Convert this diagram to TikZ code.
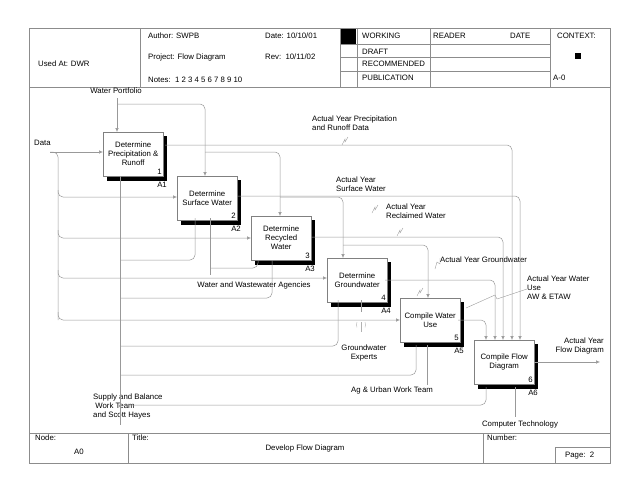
\documentclass[tikz,border=0pt]{standalone}
\usepackage{fontspec}
\setmainfont{Liberation Sans}
\usetikzlibrary{arrows.meta}
\begin{document}
\begin{tikzpicture}[x=1pt,y=-1pt,font=\fontsize{7.8}{9}\selectfont,
  fr/.style={draw=black!45,line width=0.5pt},
  ln/.style={draw=black!40,line width=0.5pt,rounded corners=5pt},
  ar/.style={ln,-{Latex[length=4pt,width=3.5pt]},arrows={-{Latex[length=4pt,width=3.5pt]}}},
  box/.style={draw=black!50,fill=white,minimum width=60pt,minimum height=44pt,align=center,inner sep=1pt},
  tx/.style={inner sep=0pt,anchor=west},
  sq/.style={draw=black!40,line width=0.5pt}]
\useasboundingbox (0,0) rectangle (638,493);
% ---- frame ----
\draw[fr] (29,28) rectangle (610,463);
\draw[fr] (29,87) -- (610,87);
\draw[fr] (29,433) -- (610,433);
\draw[fr] (140,28) -- (140,87);
\draw[fr] (340,28) -- (340,87);
\draw[fr] (357,28) -- (357,87);
\draw[fr] (430,28) -- (430,87);
\draw[fr] (550,28) -- (550,87);
\foreach \y in {44,57,71} \draw[fr] (340,\y) -- (550,\y);
\fill (341,29) rectangle (356,44);
\fill (575,53) rectangle (581,59);
\node[tx] (au) at (148,36) {Author: SWPB};
\node[tx] (pr) at (148,57) {Project: Flow Diagram};
\node[tx] (no) at (148,80) {Notes:\ \ 1 2 3 4 5 6 7 8 9 10};
\node[tx] (da) at (265,36) {Date: 10/10/01};
\node[tx] (rv) at (265,57) {Rev:\ \ 10/11/02};
\node[tx] (ua) at (38,64) {Used At: DWR};
\node[tx] (w1) at (362,36) {WORKING};
\node[tx] (w2) at (362,52) {DRAFT};
\node[tx] (w3) at (362,64) {RECOMMENDED};
\node[tx] (w4) at (362,78) {PUBLICATION};
\node[tx] (rd) at (433,36) {READER};
\node[tx] (dt) at (510,36) {DATE};
\node[tx] (cx) at (557,36) {CONTEXT:};
\node[tx] (a0) at (553,78) {A-0};
% bottom
\draw[fr] (128,433) -- (128,463);
\draw[fr] (483,433) -- (483,463);
\draw[fr] (555,447) rectangle (610,463);
\node[tx] (nd) at (35,438) {Node:};
\node[tx] (an) at (74,452) {A0};
\node[tx] (ti) at (132,438) {Title:};
\node (dfd) at (305,448) {Develop Flow Diagram};
\node[tx] (nu) at (487,438) {Number:};
\node[tx] (pg) at (565,456) {Page:\ \ 2};
% ---- boxes ----
\foreach \n/\x/\y/\t/\k/\a in {b1/103/132/{Determine\\Precipitation \&\\Runoff}/1/A1,
  b2/177/176/{Determine\\Surface Water}/2/A2,
  b3/251/216/{Determine\\Recycled\\Water}/3/A3,
  b4/327/258/{Determine\\Groundwater}/4/A4,
  b5/400/298/{Compile Water\\Use}/5/A5,
  b6/474/340/{Compile Flow\\Diagram}/6/A6}{
  \fill (\x+4,\y+4) rectangle (\x+64,\y+49);
  \node[box,anchor=north west] (\n) at (\x,\y) {\t};
  \node[anchor=south east,inner sep=1.5pt] at (\n.south east) {\k};
  \node[anchor=north east,inner sep=0pt] at (\x+64,\y+50) {\a};
}
% ---- texts ----
\node (wp) at (116,91) {Water Portfolio};
\node[tx] (dat) at (34,143) {Data};
\node[tx,align=left,anchor=north west] (l1) at (312,116) {Actual Year Precipitation\\and Runoff Data};
\node[tx,align=left,anchor=north west] (l2) at (336,177) {Actual Year\\Surface Water};
\node[tx,align=left,anchor=north west] (l3) at (386,204) {Actual Year\\Reclaimed Water};
\node[tx] (l4) at (440,260) {Actual Year Groundwater};
\node[tx,align=left,anchor=north west] (l5) at (527,276) {Actual Year Water\\Use\\AW \& ETAW};
\node[align=right,anchor=north east,inner sep=0pt] (l6) at (604,338) {Actual Year\\Flow Diagram};
\node[inner sep=0pt] (m1) at (254,285) {Water and Wastewater Agencies};
\node[align=center,inner sep=0pt] (m2) at (364,353) {Groundwater\\Experts};
\node[inner sep=0pt] (m3) at (392,390) {Ag \& Urban Work Team};
\node[align=left,anchor=north west,inner sep=0pt] (m4) at (93,394) {Supply and Balance\\\ Work Team\\and Scott Hayes};
\node[inner sep=0pt] (m5) at (520,424) {Computer Technology};
% ---- controls ----
\draw[ar] (117,98) -- (b1.north -| 117,0);
\draw[ar] (117,104) -- (205,104) -- (205,176);
\draw[ar] (205,152) -- (280,152) -- (280,216);
\draw[ar] (280,197) -- (343,197) -- (343,258);
\draw[ar] (343,245) -- (428,245) -- (428,298);
% ---- inputs ----
\draw[ar] (50,152) -- (103,152);
\draw[ln] (50,152) -- (58,152) -- (58,320);
\draw[ar] (58,190) -- (58,197) -- (177,197);
\draw[ar] (58,230) -- (58,238) -- (251,238);
\draw[ar] (58,270) -- (58,278) -- (327,278);
\draw[ar] (58,312) -- (58,320) -- (400,320);
% ---- outputs ----
\draw[ar] (165,145) -- (512,145) -- (512,340);
\draw[ar] (237,196) -- (520,196) -- (520,340);
\draw[ar] (311,237) -- (503,237) -- (503,340);
\draw[ar] (385,280) -- (495,280) -- (495,340);
\draw[ar] (458,320) -- (486,320) -- (486,340);
\draw[ar] (534,362) -- (600,362);
% squiggles
\foreach \x/\y in {345/137,375/205,400/228,420/288} \draw[draw=black!40] (\x-3,\y+8) -- (\x,\y+2) -- (\x,\y+5) -- (\x+3,\y);
\draw[draw=black!40] (466,308) -- (495,295) -- (497,299) -- (527,289);
\draw[draw=black!40] (435,269) -- (437,262) -- (440,264) -- (440,258);
% ---- mechanisms ----
\draw[ln] (120,176) -- (120,425);
\draw[ln] (120,260) -- (195,260) -- (195,218);
\draw[ln] (120,298) -- (272,298) -- (272,260);
\draw[ln] (210,218) -- (210,275);
\draw[ln] (210,268) -- (258,268) -- (258,260);
\draw[ln] (120,346) -- (338,346) -- (338,300);
\draw[ln] (361,300) -- (361,312);
\draw[draw=black!30] (361,322) -- (361,332);
\draw[draw=black!30] (357,322) arc (200:160:8);
\draw[draw=black!30] (365,322) arc (-20:20:8);
\draw[ln] (120,375) -- (416,375) -- (416,345);
\draw[ln] (427,345) -- (427,385);
\draw[ln] (120,405) -- (486,405) -- (486,387);
\draw[ln] (515,387) -- (515,417);
\end{tikzpicture}
\end{document}
